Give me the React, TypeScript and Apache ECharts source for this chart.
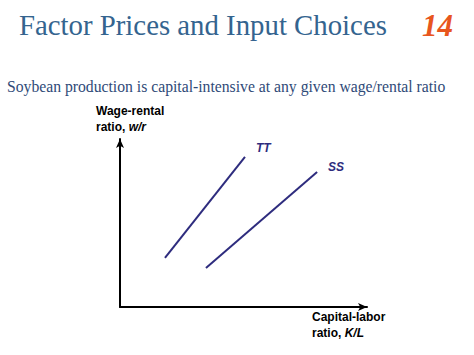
import React, { useEffect, useRef } from "react";
import * as echarts from "echarts";

const ttX = [18.2, 50.6];
const ttY = [29.2, 89.3];
const ssX = [34.8, 79.8];
const ssY = [23.2, 80.4];
const seriesNames = ["TT", "SS"];

export default function App() {
  const ref = useRef<HTMLDivElement>(null);
  useEffect(() => {
    const chart = echarts.init(ref.current!, undefined, { renderer: "svg" });
    const lineColor = "#2E2C7E";
    const mk = (xs: number[], ys: number[]) => xs.map((x, i) => [x, ys[i]]);
    const rich = {
      b: { fontFamily: "Liberation Sans", fontSize: 12, fontWeight: "bold", fill: "#000", lineHeight: 16 },
      i: { fontFamily: "Liberation Sans", fontSize: 12, fontWeight: "bold", fontStyle: "italic", fill: "#000", lineHeight: 16 },
    };
    chart.setOption({
      animation: false,
      backgroundColor: "#ffffff",
      title: [
        {
          text: "Factor Prices and Input Choices",
          left: 14,
          top: 5,
          textStyle: { fontFamily: "Liberation Serif", fontSize: 28.8, fontWeight: "normal", color: "#34648F" },
        },
        {
          text: "14",
          left: 417,
          top: 5,
          textStyle: { fontFamily: "Liberation Serif", fontSize: 31, fontWeight: "bold", fontStyle: "italic", color: "#E8561E" },
        },
        {
          text: "Soybean production is capital-intensive at any given wage/rental ratio",
          left: 2,
          top: 73,
          textStyle: { fontFamily: "Liberation Serif", fontSize: 15.7, fontWeight: "normal", color: "#2F4A78" },
        },
      ],
      grid: { left: 120, right: 107, top: 139, bottom: 48 },
      xAxis: {
        type: "value",
        min: 0,
        max: 100,
        axisLine: { show: true, symbol: ["none", "arrow"], symbolSize: [6, 9], lineStyle: { color: "#000", width: 2 } },
        axisTick: { show: false },
        axisLabel: { show: false },
        splitLine: { show: false },
      },
      yAxis: {
        type: "value",
        min: 0,
        max: 100,
        axisLine: { show: true, symbol: ["none", "arrow"], symbolSize: [6, 9], lineStyle: { color: "#000", width: 2 } },
        axisTick: { show: false },
        axisLabel: { show: false },
        splitLine: { show: false },
      },
      graphic: [
        {
          type: "text",
          left: 96,
          top: 105,
          style: { text: "{b|Wage-rental}\n{b|ratio, }{i|w/r}", rich },
        },
        {
          type: "text",
          left: 312,
          top: 311,
          style: { text: "{b|Capital-labor}\n{b|ratio, }{i|K/L}", rich },
        },
      ],
      series: [
        {
          name: seriesNames[0],
          type: "line",
          data: mk(ttX, ttY),
          symbol: "none",
          lineStyle: { color: lineColor, width: 2 },
          endLabel: {
            show: true,
            formatter: seriesNames[0],
            offset: [3, -9],
            fontFamily: "Liberation Sans",
            fontSize: 12,
            fontWeight: "bold",
            fontStyle: "italic",
            color: lineColor,
          },
        },
        {
          name: seriesNames[1],
          type: "line",
          data: mk(ssX, ssY),
          symbol: "none",
          lineStyle: { color: lineColor, width: 2 },
          endLabel: {
            show: true,
            formatter: seriesNames[1],
            offset: [3, -5],
            fontFamily: "Liberation Sans",
            fontSize: 12,
            fontWeight: "bold",
            fontStyle: "italic",
            color: lineColor,
          },
        },
      ],
    });
    return () => chart.dispose();
  }, []);
  return <div ref={ref} style={{ position: "absolute", left: 0, top: 0, width: 474, height: 355 }} />;
}
